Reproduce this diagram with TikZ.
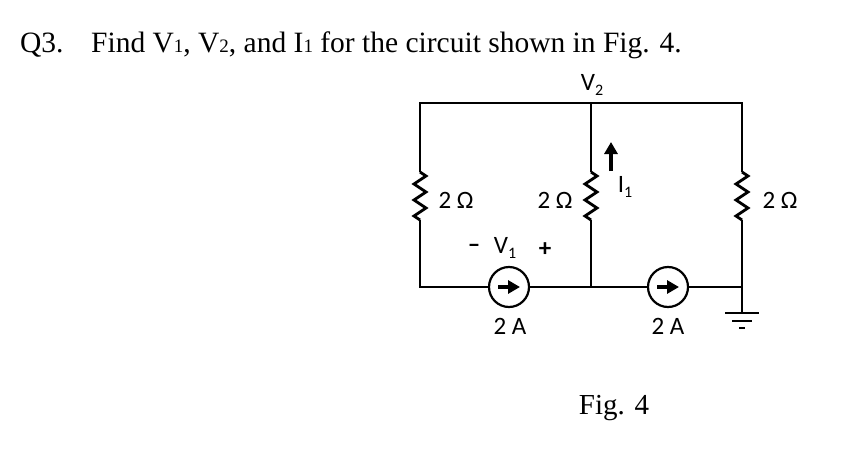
\documentclass[tikz,border=0pt]{standalone}
\usepackage{fontspec}
\setmainfont{Liberation Serif}
\newfontfamily\cirfont{Carlito}
\newcommand{\mysub}[1]{\raisebox{-0.35ex}{\fontsize{16}{16}\selectfont #1}}
\usetikzlibrary{arrows.meta,decorations.pathmorphing}
\begin{document}
\begin{tikzpicture}[x=1pt,y=-1pt,
  w/.style={line width=2.8pt},
  res/.style={w,decorate,decoration={zigzag,segment length=16pt,amplitude=6pt}},
  lab/.style={font=\cirfont\fontsize{25}{25}\selectfont,inner sep=0pt},
  arr/.style={line width=3.5pt,-{Triangle[length=12pt,width=13pt]}},
  src/.style={circle,draw,line width=2.2pt,minimum size=40pt,inner sep=0pt}]
\useasboundingbox (0,0) rectangle (851,463);
\node[anchor=base west,inner sep=0pt,font=\fontsize{29.5}{29.5}\selectfont] (t) at (20,52)
  {Q3.\hspace{0.6em} Find V{\fontsize{19}{19}\selectfont 1}, V{\fontsize{19}{19}\selectfont 2}, and I{\fontsize{19}{19}\selectfont 1} for the circuit shown in Fig. 4.};
\coordinate (tl) at (420,103); \coordinate (tm) at (591,103); \coordinate (tr) at (742,103);
\coordinate (bl) at (420,287); \coordinate (bm) at (591,287); \coordinate (br) at (742,287);
\coordinate (l1) at (420,172); \coordinate (l2) at (420,220);
\coordinate (m1) at (591,172); \coordinate (m2) at (591,220);
\coordinate (r1) at (742,172); \coordinate (r2) at (742,220);
\node[src] (s1) at (509,287) {};
\node[src] (s2) at (668,287) {};
\draw[w] (l2) -- (bl) -- (s1) -- (bm) -- (s2) -- (br) -- (r2);
\draw[w] (l1) -- (tl) -- (tr) -- (r1);
\draw[w] (tm) -- (m1); \draw[w] (m2) -- (bm);
\draw[res] (l1) -- (l2); \draw[res] (m1) -- (m2); \draw[res] (r1) -- (r2);
\draw[arr] ([xshift=-11pt]s1.center) -- ([xshift=11pt]s1.center);
\draw[arr] ([xshift=-11pt]s2.center) -- ([xshift=11pt]s2.center);
\draw[arr] (611,171) -- (611,142);
\coordinate (g0) at (742,313);
\draw[w] (br) -- (g0);
\draw[w] (725,313) -- (759,313);
\draw[w] (732,321) -- (752,321);
\draw[w] (739,328) -- (745,328);
\node[lab] (v2) at (592,85) {V\mysub{2}};
\node[lab] (i1) at (625,187) {I\mysub{1}};
\node[lab] (ra) at (456,200) {2 Ω};
\node[lab] (rb) at (555,200) {2 Ω};
\node[lab] (rc) at (780,200) {2 Ω};
\node[lab] (v1) at (505,248) {V\mysub{1}};
\node[lab] (mi) at (474,248) {\textbf{–}};
\node[lab] (pl) at (545,250) {\textbf{+}};
\node[lab] (a1) at (510,326) {2 A};
\node[lab] (a2) at (668,326) {2 A};
\node[inner sep=0pt,font=\fontsize{29}{29}\selectfont] (f) at (614,408) {Fig. 4};
\end{tikzpicture}
\end{document}
